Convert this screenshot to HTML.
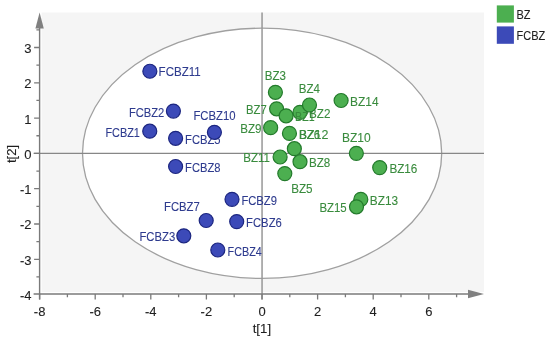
<!DOCTYPE html>
<html><head><meta charset="utf-8"><title>PCA score plot</title>
<style>
html,body{margin:0;padding:0;background:#fff;width:550px;height:342px;overflow:hidden}
svg{display:block;font-family:"Liberation Sans",Arial,sans-serif}
text{stroke:currentColor;stroke-width:0.1px}
</style></head><body>
<svg width="550" height="342" viewBox="0 0 550 342">
<rect x="41.6" y="12.5" width="442.4" height="279.5" fill="#f5f5f5"/>
<ellipse cx="262.1" cy="153.3" rx="179.6" ry="125.1" fill="#ffffff" stroke="#a0a0a0" stroke-width="1.3"/>
<line x1="262.05" y1="12.5" x2="262.05" y2="299.5" stroke="#979797" stroke-width="1.5"/>
<line x1="33.6" y1="153.4" x2="484.0" y2="153.4" stroke="#878787" stroke-width="1.25"/>
<line x1="39.6" y1="26.5" x2="39.6" y2="299.5" stroke="#7a7a7a" stroke-width="1.4"/>
<line x1="33.6" y1="294.0" x2="470.0" y2="294.0" stroke="#7a7a7a" stroke-width="1.4"/>
<polygon points="39.6,12.5 35.4,28.5 43.800000000000004,28.5" fill="#808080"/>
<polygon points="484.0,294.0 468.0,289.8 468.0,298.2" fill="#808080"/>
<path d="M39.60,294.0v5.5 M67.40,294.0v3.2 M95.20,294.0v5.5 M123.00,294.0v3.2 M150.80,294.0v5.5 M178.60,294.0v3.2 M206.40,294.0v5.5 M234.20,294.0v3.2 M262.00,294.0v5.5 M289.80,294.0v3.2 M317.60,294.0v5.5 M345.40,294.0v3.2 M373.20,294.0v5.5 M401.00,294.0v3.2 M428.80,294.0v5.5 M456.60,294.0v3.2 M39.6,276.95h-3.2 M39.6,259.30h-5.5 M39.6,241.65h-3.2 M39.6,224.00h-5.5 M39.6,206.35h-3.2 M39.6,188.70h-5.5 M39.6,171.05h-3.2 M39.6,153.40h-5.5 M39.6,135.75h-3.2 M39.6,118.10h-5.5 M39.6,100.45h-3.2 M39.6,82.80h-5.5 M39.6,65.15h-3.2 M39.6,47.50h-5.5 M39.6,29.85h-3.2" stroke="#7a7a7a" stroke-width="1.3" fill="none"/>
<g fill="#1e1e1e" style="color:#1e1e1e" font-size="13"><text x="39.60" y="315.9" text-anchor="middle">-8</text><text x="95.20" y="315.9" text-anchor="middle">-6</text><text x="150.80" y="315.9" text-anchor="middle">-4</text><text x="206.40" y="315.9" text-anchor="middle">-2</text><text x="262.00" y="315.9" text-anchor="middle">0</text><text x="317.60" y="315.9" text-anchor="middle">2</text><text x="373.20" y="315.9" text-anchor="middle">4</text><text x="428.80" y="315.9" text-anchor="middle">6</text><text x="31.5" y="300.00" text-anchor="end">-4</text><text x="31.5" y="264.70" text-anchor="end">-3</text><text x="31.5" y="229.40" text-anchor="end">-2</text><text x="31.5" y="194.10" text-anchor="end">-1</text><text x="31.5" y="158.80" text-anchor="end">0</text><text x="31.5" y="123.50" text-anchor="end">1</text><text x="31.5" y="88.20" text-anchor="end">2</text><text x="31.5" y="52.90" text-anchor="end">3</text></g>
<text x="252.7" y="332.7" fill="#1e1e1e" style="color:#1e1e1e" font-size="13" textLength="18.4" lengthAdjust="spacingAndGlyphs">t[1]</text>
<text transform="translate(15.6,163) rotate(-90)" fill="#1e1e1e" style="color:#1e1e1e" font-size="13" textLength="18" lengthAdjust="spacingAndGlyphs">t[2]</text>
<g font-size="13">
<circle cx="149.85" cy="71.25" r="7.0" fill="#3c4ab8" stroke="#1c2680" stroke-width="1.2"/><text x="158.6" y="76.4" fill="#2e3b8e" style="color:#2e3b8e" textLength="42.2" lengthAdjust="spacingAndGlyphs">FCBZ11</text><circle cx="173.4" cy="111.1" r="7.0" fill="#3c4ab8" stroke="#1c2680" stroke-width="1.2"/><text x="128.9" y="116.9" fill="#2e3b8e" style="color:#2e3b8e" textLength="35.4" lengthAdjust="spacingAndGlyphs">FCBZ2</text><circle cx="149.75" cy="131.2" r="7.0" fill="#3c4ab8" stroke="#1c2680" stroke-width="1.2"/><text x="105.4" y="136.6" fill="#2e3b8e" style="color:#2e3b8e" textLength="34.5" lengthAdjust="spacingAndGlyphs">FCBZ1</text><circle cx="175.6" cy="138.3" r="7.0" fill="#3c4ab8" stroke="#1c2680" stroke-width="1.2"/><text x="185.1" y="143.5" fill="#2e3b8e" style="color:#2e3b8e" textLength="35.5" lengthAdjust="spacingAndGlyphs">FCBZ5</text><circle cx="214.4" cy="132.3" r="7.0" fill="#3c4ab8" stroke="#1c2680" stroke-width="1.2"/><text x="193.4" y="120.3" fill="#2e3b8e" style="color:#2e3b8e" textLength="42.2" lengthAdjust="spacingAndGlyphs">FCBZ10</text><circle cx="175.6" cy="166.5" r="7.0" fill="#3c4ab8" stroke="#1c2680" stroke-width="1.2"/><text x="185.1" y="171.5" fill="#2e3b8e" style="color:#2e3b8e" textLength="35.3" lengthAdjust="spacingAndGlyphs">FCBZ8</text><circle cx="232.0" cy="199.35" r="7.0" fill="#3c4ab8" stroke="#1c2680" stroke-width="1.2"/><text x="241.4" y="204.5" fill="#2e3b8e" style="color:#2e3b8e" textLength="35.5" lengthAdjust="spacingAndGlyphs">FCBZ9</text><circle cx="206.2" cy="220.5" r="7.0" fill="#3c4ab8" stroke="#1c2680" stroke-width="1.2"/><text x="164.0" y="210.7" fill="#2e3b8e" style="color:#2e3b8e" textLength="35.8" lengthAdjust="spacingAndGlyphs">FCBZ7</text><circle cx="236.7" cy="221.6" r="7.0" fill="#3c4ab8" stroke="#1c2680" stroke-width="1.2"/><text x="246.1" y="227.3" fill="#2e3b8e" style="color:#2e3b8e" textLength="35.7" lengthAdjust="spacingAndGlyphs">FCBZ6</text><circle cx="183.8" cy="235.8" r="7.0" fill="#3c4ab8" stroke="#1c2680" stroke-width="1.2"/><text x="139.4" y="240.9" fill="#2e3b8e" style="color:#2e3b8e" textLength="35.8" lengthAdjust="spacingAndGlyphs">FCBZ3</text><circle cx="217.8" cy="250.0" r="7.0" fill="#3c4ab8" stroke="#1c2680" stroke-width="1.2"/><text x="227.6" y="255.8" fill="#2e3b8e" style="color:#2e3b8e" textLength="34.2" lengthAdjust="spacingAndGlyphs">FCBZ4</text>
<circle cx="275.4" cy="92.3" r="7.0" fill="#4caf50" stroke="#237a2b" stroke-width="1.2"/><text x="264.8" y="80.2" fill="#398b3d" style="color:#398b3d" textLength="21.2" lengthAdjust="spacingAndGlyphs">BZ3</text><circle cx="284.8" cy="173.6" r="7.0" fill="#4caf50" stroke="#237a2b" stroke-width="1.2"/><text x="291.2" y="192.9" fill="#398b3d" style="color:#398b3d" textLength="21.4" lengthAdjust="spacingAndGlyphs">BZ5</text><circle cx="289.45" cy="133.4" r="7.0" fill="#4caf50" stroke="#237a2b" stroke-width="1.2"/><text x="299.2" y="138.8" fill="#398b3d" style="color:#398b3d" textLength="20.9" lengthAdjust="spacingAndGlyphs">BZ6</text><circle cx="276.6" cy="108.8" r="7.0" fill="#4caf50" stroke="#237a2b" stroke-width="1.2"/><text x="246.1" y="114.0" fill="#398b3d" style="color:#398b3d" textLength="20.7" lengthAdjust="spacingAndGlyphs">BZ7</text><circle cx="300.0" cy="161.7" r="7.0" fill="#4caf50" stroke="#237a2b" stroke-width="1.2"/><text x="309.0" y="166.9" fill="#398b3d" style="color:#398b3d" textLength="21.3" lengthAdjust="spacingAndGlyphs">BZ8</text><circle cx="270.65" cy="127.65" r="7.0" fill="#4caf50" stroke="#237a2b" stroke-width="1.2"/><text x="240.2" y="132.8" fill="#398b3d" style="color:#398b3d" textLength="21.3" lengthAdjust="spacingAndGlyphs">BZ9</text><circle cx="356.35" cy="153.35" r="7.0" fill="#4caf50" stroke="#237a2b" stroke-width="1.2"/><text x="341.9" y="141.6" fill="#398b3d" style="color:#398b3d" textLength="28.7" lengthAdjust="spacingAndGlyphs">BZ10</text><circle cx="280.1" cy="157.0" r="7.0" fill="#4caf50" stroke="#237a2b" stroke-width="1.2"/><text x="243.2" y="161.8" fill="#398b3d" style="color:#398b3d" textLength="26.8" lengthAdjust="spacingAndGlyphs">BZ11</text><circle cx="294.35" cy="148.7" r="7.0" fill="#4caf50" stroke="#237a2b" stroke-width="1.2"/><text x="298.7" y="138.8" fill="#398b3d" style="color:#398b3d" textLength="29.8" lengthAdjust="spacingAndGlyphs">BZ12</text><circle cx="360.8" cy="199.4" r="7.0" fill="#4caf50" stroke="#237a2b" stroke-width="1.2"/><text x="369.8" y="204.6" fill="#398b3d" style="color:#398b3d" textLength="28.3" lengthAdjust="spacingAndGlyphs">BZ13</text><circle cx="341.1" cy="100.5" r="7.0" fill="#4caf50" stroke="#237a2b" stroke-width="1.2"/><text x="350.0" y="105.9" fill="#398b3d" style="color:#398b3d" textLength="28.6" lengthAdjust="spacingAndGlyphs">BZ14</text><circle cx="356.5" cy="206.8" r="7.0" fill="#4caf50" stroke="#237a2b" stroke-width="1.2"/><text x="319.4" y="212.3" fill="#398b3d" style="color:#398b3d" textLength="27.3" lengthAdjust="spacingAndGlyphs">BZ15</text><circle cx="379.7" cy="167.6" r="7.0" fill="#4caf50" stroke="#237a2b" stroke-width="1.2"/><text x="389.4" y="172.5" fill="#398b3d" style="color:#398b3d" textLength="28.0" lengthAdjust="spacingAndGlyphs">BZ16</text><circle cx="299.9" cy="112.4" r="7.0" fill="#4caf50" stroke="#237a2b" stroke-width="1.2"/><text x="309.0" y="117.7" fill="#398b3d" style="color:#398b3d" textLength="21.4" lengthAdjust="spacingAndGlyphs">BZ2</text><circle cx="286.1" cy="115.8" r="7.0" fill="#4caf50" stroke="#237a2b" stroke-width="1.2"/><text x="295.1" y="120.7" fill="#398b3d" style="color:#398b3d" textLength="19.6" lengthAdjust="spacingAndGlyphs">BZ1</text><circle cx="309.5" cy="105.0" r="7.0" fill="#4caf50" stroke="#237a2b" stroke-width="1.2"/><text x="298.7" y="92.8" fill="#398b3d" style="color:#398b3d" textLength="21.2" lengthAdjust="spacingAndGlyphs">BZ4</text>
</g>
<rect x="496.8" y="5.4" width="17.1" height="17.2" fill="#4caf50"/>
<rect x="496.8" y="26.4" width="17.1" height="17.4" fill="#3c4ab8"/>
<g fill="#1e1e1e" font-size="13">
<text x="516.5" y="19.0" fill="#1e1e1e" style="color:#1e1e1e" textLength="14.0" lengthAdjust="spacingAndGlyphs">BZ</text>
<text x="516.5" y="40.2" fill="#1e1e1e" style="color:#1e1e1e" textLength="28.7" lengthAdjust="spacingAndGlyphs">FCBZ</text>
</g>
</svg>
</body></html>
